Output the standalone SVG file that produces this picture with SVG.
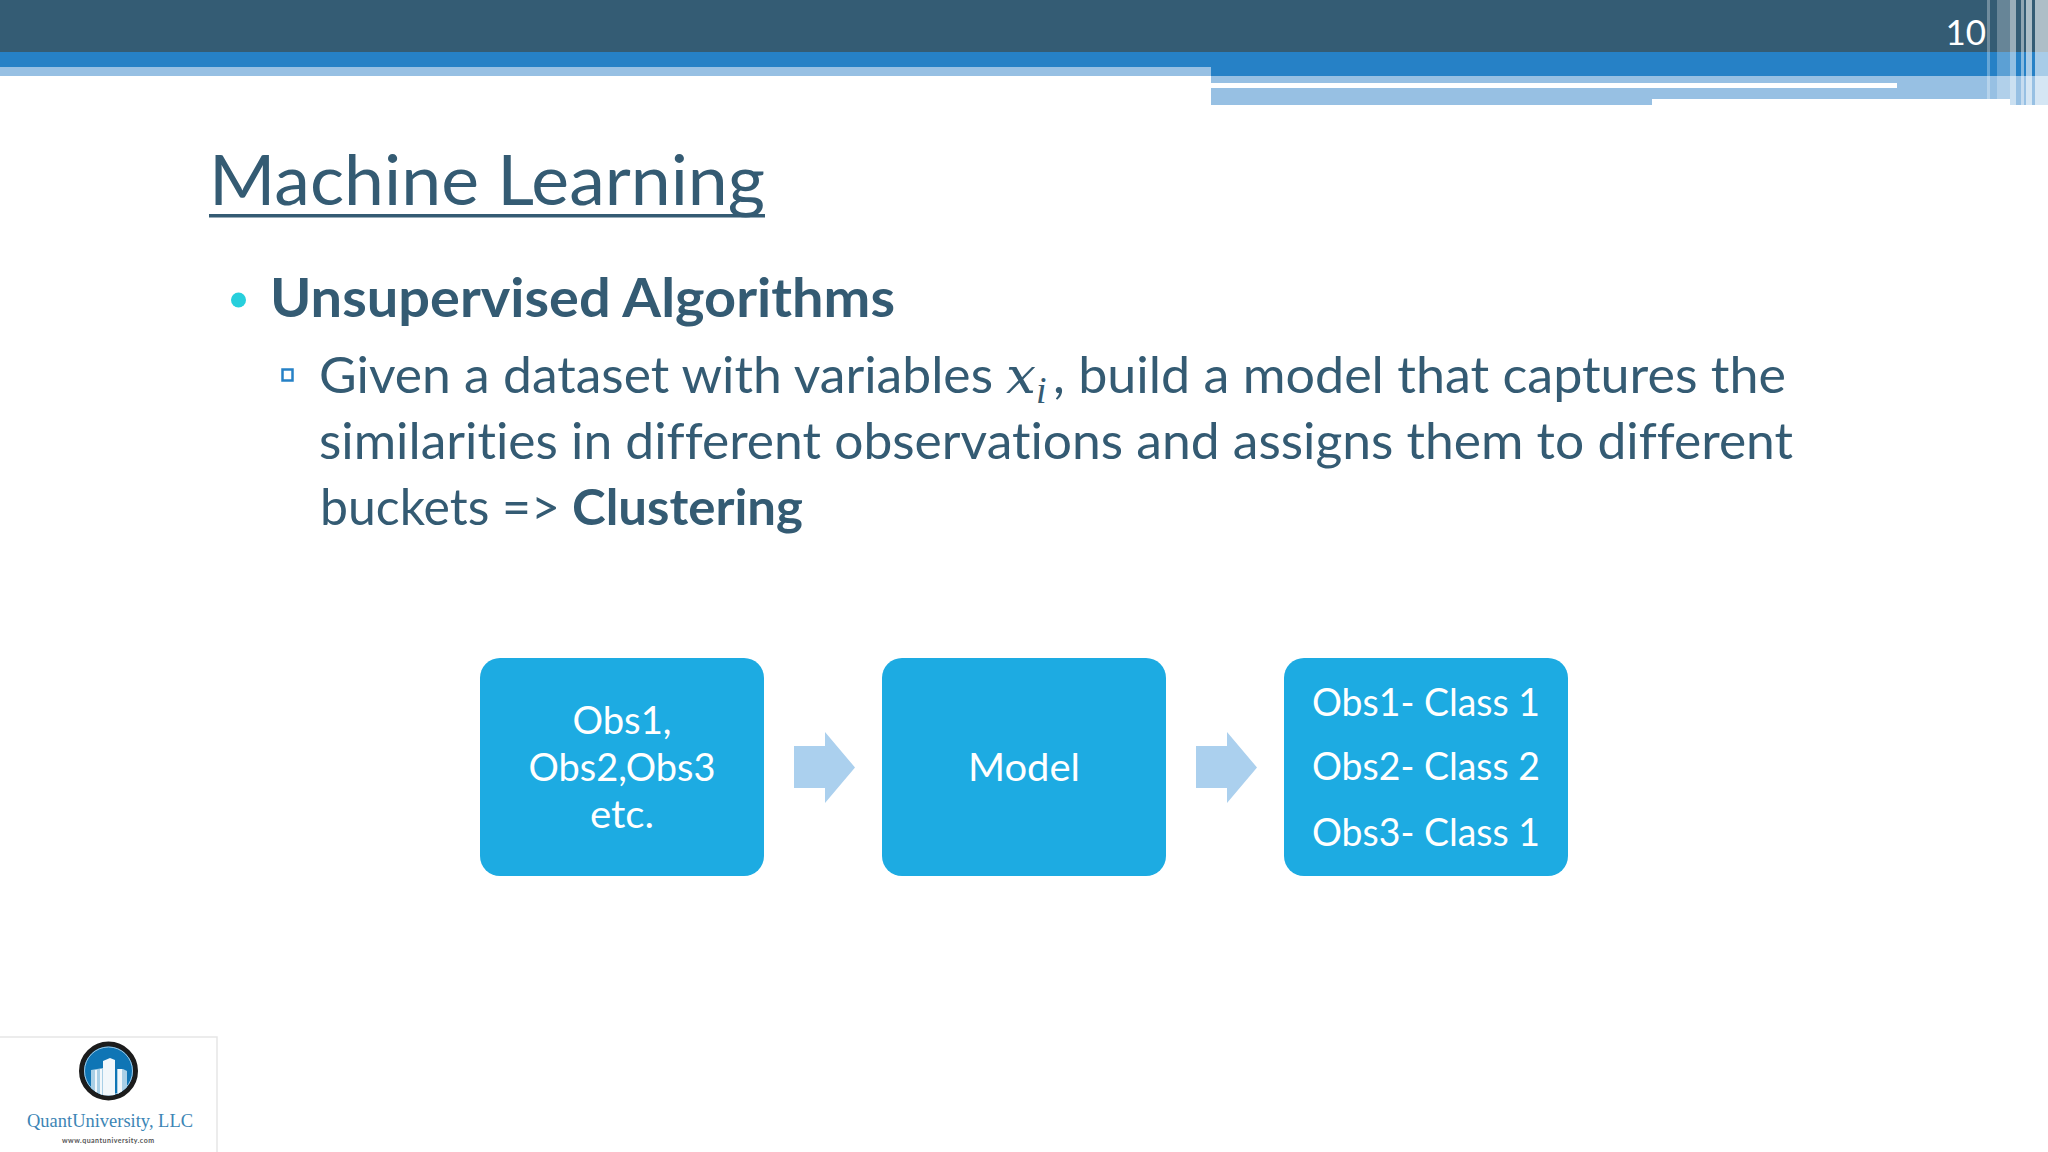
<svg xmlns="http://www.w3.org/2000/svg" width="2048" height="1152" viewBox="0 0 2048 1152">
<style>
text{font-family:Lato,"Open Sans","Liberation Sans",sans-serif;font-variant-ligatures:none}
.ink{fill:#345b73}
.body{font-size:50px}
.bx{fill:#1dabe2}
.lb{fill:#fff;font-size:38.500px;text-anchor:middle}
.ar{fill:#abd0ee}
</style>
<defs><clipPath id="lc"><circle cx="108.500" cy="1071" r="24.500"/></clipPath></defs>
<rect width="2048" height="1152" fill="#fff"/>
<g id="header">
<rect width="2048" height="52" fill="#345c74"/>
<rect y="52" width="2048" height="24" fill="#2681c6"/>
<rect y="67" width="1211" height="9" fill="#97c0e3"/>
<rect x="1211" y="76" width="837" height="29" fill="#97c0e3"/>
<rect x="1211" y="83" width="686" height="5" fill="#fff"/>
<rect x="1652" y="99" width="358" height="6" fill="#fff"/>
<g fill="#fff"><rect x="1987" width="3" height="99" opacity=".3"/><rect x="1997" width="13" height="99" opacity=".25"/><rect x="2010" width="6" height="105" opacity=".5"/><rect x="2021" width="3" height="105" opacity=".45"/><rect x="2026" width="6" height="105" opacity=".6"/><rect x="2035" width="13" height="105" opacity=".6"/></g>
<text x="1986" y="45" fill="#fff" font-size="35" text-anchor="end">10</text>
</g>
<g id="title"><text x="209" y="205" class="ink" font-size="70" textLength="556" lengthAdjust="spacingAndGlyphs">Machine Learning</text><rect x="209" y="214" width="556" height="3.500" fill="#345b73"/></g>
<g id="content">
<circle cx="238.500" cy="300" r="7.500" fill="#27cfdc"/>
<text x="270" y="317" class="ink" font-size="53" font-weight="700" textLength="625" lengthAdjust="spacingAndGlyphs">Unsupervised Algorithms</text>
<rect x="282.500" y="369.500" width="10" height="11" fill="#fff" stroke="#2681c6" stroke-width="2.500"/>
<text x="319" y="392.500" class="ink body" textLength="674" lengthAdjust="spacingAndGlyphs">Given a dataset with variables</text>
<text x="1006" y="392.500" class="ink" font-size="50" font-style="italic" style="font-family:'DejaVu Serif','Liberation Serif',serif" textLength="30" lengthAdjust="spacingAndGlyphs">x</text>
<text x="1036" y="403" class="ink" font-size="38" font-style="italic" style="font-family:'Liberation Serif',serif">i</text>
<text x="1053" y="392.500" class="ink body" textLength="733" lengthAdjust="spacingAndGlyphs">, build a model that captures the</text>
<text x="319" y="458.500" class="ink body" textLength="1474" lengthAdjust="spacingAndGlyphs">similarities in different observations and assigns them to different</text>
<text x="320" y="524.500" class="ink body" textLength="240" lengthAdjust="spacingAndGlyphs">buckets =&gt;</text>
<text x="572" y="524.500" class="ink body" font-weight="700" textLength="231" lengthAdjust="spacingAndGlyphs">Clustering</text>
</g>
<g id="connectors">
<path class="ar" d="M794 746H825V732L855 767.500 825 803V788H794Z"/>
<path class="ar" d="M1196 746H1227V732L1257 767.500 1227 803V788H1196Z"/>
</g>
<g id="node-obs"><rect class="bx" x="480" y="658" width="284" height="218" rx="20"/>
<text class="lb" x="622" y="733.500" textLength="99" lengthAdjust="spacingAndGlyphs">Obs1,</text><text class="lb" x="622" y="780.500" textLength="187" lengthAdjust="spacingAndGlyphs">Obs2,Obs3</text><text class="lb" x="622" y="827.500" textLength="64" lengthAdjust="spacingAndGlyphs">etc.</text></g>
<g id="node-model"><rect class="bx" x="882" y="658" width="284" height="218" rx="20"/>
<text class="lb" x="1024" y="780.500" textLength="112" lengthAdjust="spacingAndGlyphs">Model</text></g>
<g id="node-classes"><rect class="bx" x="1284" y="658" width="284" height="218" rx="20"/>
<text class="lb" x="1426" y="715.500" textLength="228" lengthAdjust="spacingAndGlyphs">Obs1- Class 1</text><text class="lb" x="1426" y="779.500" textLength="228" lengthAdjust="spacingAndGlyphs">Obs2- Class 2</text><text class="lb" x="1426" y="845.500" textLength="228" lengthAdjust="spacingAndGlyphs">Obs3- Class 1</text></g>
<g id="logo">
<path d="M0 1037H217V1152" fill="none" stroke="#e6e6e6" stroke-width="1.500"/>
<circle cx="108.500" cy="1071" r="27" fill="#0f75b5" stroke="#1c1c1c" stroke-width="5"/>
<circle cx="108.500" cy="1071" r="24" fill="none" stroke="#9fc6e0" stroke-width="1"/>
<g clip-path="url(#lc)">
<path fill="#a9cfe6" d="M91 1100V1070L103 1068V1100ZM117 1100V1069H123L127 1071V1100Z"/>
<path fill="#f2f7fb" d="M103 1100V1061L110 1058 115 1060V1100Z"/>
<path fill="#f2f7fb" d="M95 1070h2v30h-2zM100 1069h2v31h-2zM118 1069h4v31h-4z"/>
</g>
<text x="110" y="1127" text-anchor="middle" font-size="18" fill="#3c85b5" textLength="166" lengthAdjust="spacingAndGlyphs" style="font-family:'Liberation Serif',serif">QuantUniversity, LLC</text>
<text x="108" y="1143" text-anchor="middle" font-size="7" font-weight="700" fill="#555" textLength="92" lengthAdjust="spacing">www.quantuniversity.com</text>
</g>
</svg>
